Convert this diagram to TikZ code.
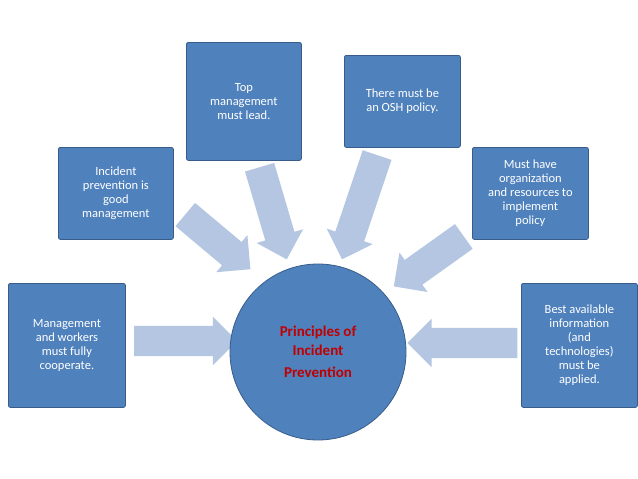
\documentclass[tikz,border=0pt]{standalone}
\usepackage{fontspec}
\setmainfont{Carlito}
\usetikzlibrary{shapes.arrows}
\definecolor{bx}{HTML}{4F81BD}
\definecolor{bd}{HTML}{385D8A}
\definecolor{ar}{HTML}{B4C6E2}
\definecolor{rd}{HTML}{C00000}
\begin{document}
\begin{tikzpicture}[x=1pt,y=-1pt,
  box/.style={draw=bd,fill=bx,line width=0.8pt,rounded corners=2pt,text=white,font=\fontsize{12.5}{14}\selectfont,align=center,anchor=north west,inner sep=3pt},
  blk/.style={single arrow,fill=ar,draw=none,inner xsep=0pt,inner ysep=15pt,single arrow head extend=9pt,single arrow head indent=0pt}]
\useasboundingbox (0,0) rectangle (638,479);
\fill[white] (0,0) rectangle (638,479);
% arrows
\node[blk,minimum height=103pt] (a1) at (178,341) {};
\node[blk,minimum height=85pt,rotate=-40] (a2) at (212,237) {};
\node[blk,minimum height=96pt,rotate=-73.6] (a3) at (271,206) {};
\node[blk,minimum height=110pt,rotate=-108.6] (a4) at (362,200) {};
\node[blk,minimum height=86pt,rotate=-144.5] (a5) at (435,257) {};
\node[blk,minimum height=110pt,rotate=180] (a6) at (470,343) {};
% circle
\node[circle,draw=bd,fill=bx,line width=0.8pt,minimum size=176pt,font=\fontsize{15}{19}\selectfont\bfseries,text=rd,align=center] (c) at (318,352) {Principles of\\Incident\\[3pt]Prevention};
% boxes
\path[box,minimum width=117pt,minimum height=124pt] (8,283) node[box,minimum width=117pt,minimum height=124pt] (b1) {Management\\and workers\\must fully\\cooperate.};
\node[box,minimum width=115pt,minimum height=92pt] (b2) at (58,147) {Incident\\prevention is\\good\\management};
\node[box,minimum width=115pt,minimum height=118pt] (b3) at (186,42) {Top\\management\\must lead.};
\node[box,minimum width=116pt,minimum height=92pt] (b4) at (344,55) {There must be\\an OSH policy.};
\node[box,minimum width=116pt,minimum height=92pt] (b5) at (472,147) {Must have\\organization\\and resources to\\implement\\policy};
\node[box,minimum width=116pt,minimum height=124pt] (b6) at (521,283) {Best available\\information\\(and\\technologies)\\must be\\applied.};
\end{tikzpicture}
\end{document}
